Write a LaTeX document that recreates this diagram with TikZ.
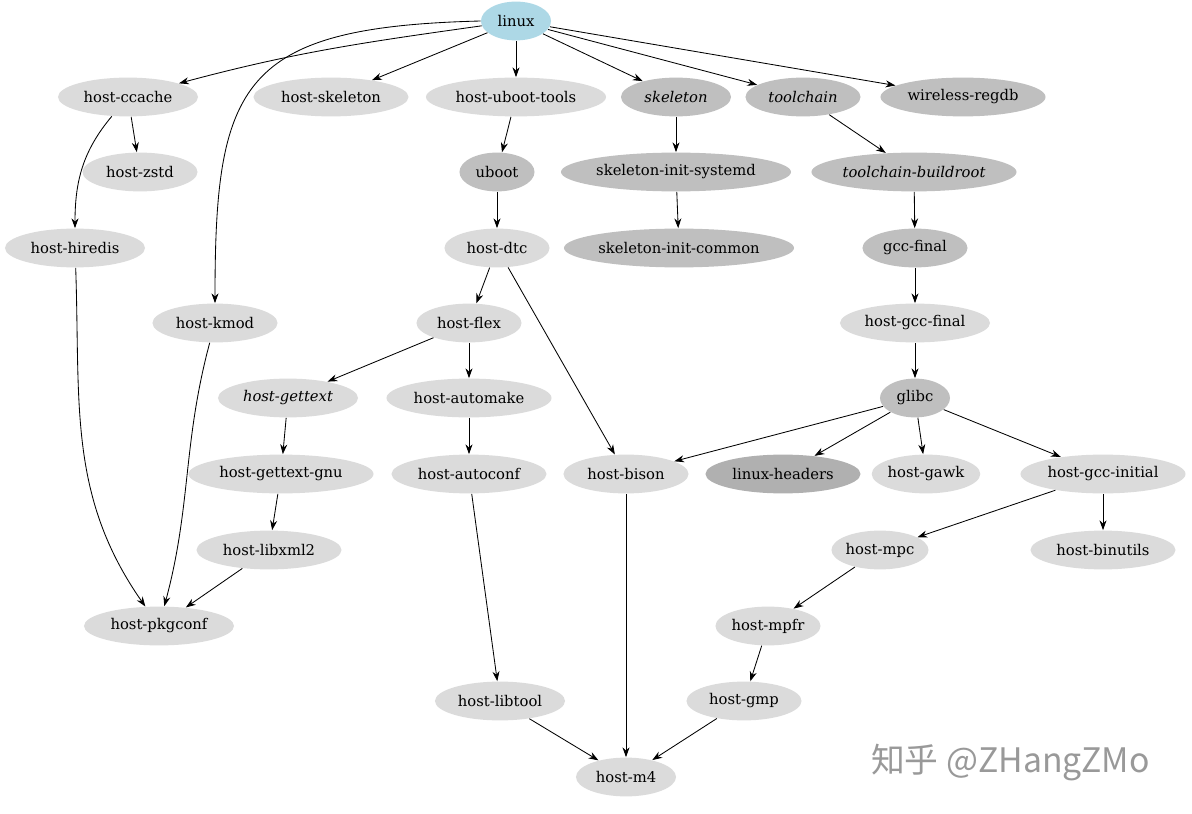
\documentclass[tikz,border=0pt]{standalone}
\usepackage{fontspec}
\setmainfont{DejaVu Serif}
\newfontfamily\cjk{Noto Sans CJK SC}
\usepackage{tikz}
\usetikzlibrary{shapes.geometric, arrows.meta}

\tikzset{
  pkg/.style={ellipse, fill=black!14, inner sep=0pt, minimum height=0.97cm, font=\fontsize{10.5}{12}\selectfont},
  dark/.style={pkg, fill=black!25},
  darker/.style={pkg, fill=black!31},
  virt/.style={font=\fontsize{10.5}{12}\selectfont\itshape},
}

\begin{document}
\begin{tikzpicture}[x=0.025cm,y=-0.025cm,>={Stealth[length=7pt,width=5pt]},semithick]
      \useasboundingbox (0,0) rectangle (1192,814);
      % row 0 and 1
      \node[pkg, fill={rgb,255:red,173;green,216;blue,230}, minimum width=1.75cm] (linux) at (516,21) {linux};
      \node[pkg, minimum width=3.5cm] (ccache) at (128,97) {host-ccache};
      \node[pkg, minimum width=3.875cm] (hskel) at (331,97) {host-skeleton};
      \node[pkg, minimum width=4.5cm] (ubtools) at (516,97) {host-uboot-tools};
      \node[dark, virt, minimum width=2.75cm] (skel) at (676,97) {skeleton};
      \node[dark, virt, minimum width=2.875cm] (tc) at (803,97) {toolchain};
      \node[dark, minimum width=4.125cm] (wreg) at (963,97) {wireless-regdb};
      % row 2 and 3
      \node[pkg, minimum width=2.875cm] (zstd) at (140,172) {host-zstd};
      \node[dark, minimum width=1.875cm] (uboot) at (497,172) {uboot};
      \node[dark, minimum width=5.75cm] (sksys) at (676,172) {skeleton-init-systemd};
      \node[dark, virt, minimum width=5.125cm] (tcbr) at (914,172) {toolchain-buildroot};
      \node[pkg, minimum width=3.5cm] (hiredis) at (75,248) {host-hiredis};
      \node[pkg, minimum width=2.625cm] (dtc) at (497,248) {host-dtc};
      \node[dark, minimum width=5.75cm] (skcom) at (679,248) {skeleton-init-common};
      \node[dark, minimum width=2.625cm] (gccf) at (915,248) {gcc-final};
      % row 4 and 5
      \node[pkg, minimum width=3.125cm] (kmod) at (215,323) {host-kmod};
      \node[pkg, minimum width=2.625cm] (flex) at (469,323) {host-flex};
      \node[pkg, minimum width=3.75cm] (hgccf) at (915,323) {host-gcc-final};
      \node[pkg, virt, minimum width=3.5cm] (gettext) at (288,398) {host-gettext};
      \node[pkg, minimum width=4.125cm] (automake) at (469,398) {host-automake};
      \node[dark, minimum width=1.75cm] (glibc) at (915,398) {glibc};
      % row 6 and 7
      \node[pkg, minimum width=4.625cm] (gtgnu) at (281,474) {host-gettext-gnu};
      \node[pkg, minimum width=3.875cm] (autoconf) at (469,474) {host-autoconf};
      \node[pkg, minimum width=3.125cm] (bison) at (626,474) {host-bison};
      \node[darker, minimum width=3.875cm] (lhdr) at (783,474) {linux-headers};
      \node[pkg, minimum width=2.375cm] (gawk) at (926,474) {host-gawk};
      \node[pkg, minimum width=4.125cm] (gcci) at (1103,474) {host-gcc-initial};
      \node[pkg, minimum width=3.625cm] (xml) at (269,550) {host-libxml2};
      \node[pkg, minimum width=2.25cm] (mpc) at (880,550) {host-mpc};
      \node[pkg, minimum width=3.625cm] (binu) at (1103,550) {host-binutils};
      % bottom rows
      \node[pkg, minimum width=3.75cm] (pkgconf) at (159,626) {host-pkgconf};
      \node[pkg, minimum width=2.625cm] (mpfr) at (768,626) {host-mpfr};
      \node[pkg, minimum width=3.25cm] (libtool) at (500,701) {host-libtool};
      \node[pkg, minimum width=2.875cm] (gmp) at (744,701) {host-gmp};
      \node[pkg, minimum width=2.5cm] (m4) at (626,777) {host-m4};
      \node[text=black!40, font=\cjk\fontsize{24}{26}\selectfont, anchor=west] (wm) at (866,763) {知乎 @ZHangZMo};

      \draw[->] (linux) to[out=188,in=15] (ccache);
      \draw[->] (linux.west) .. controls +(-240,6) and +(0,-240) .. (kmod);
      \path[->]
      (linux) edge (hskel) edge (ubtools) edge (skel) edge (tc) edge (wreg);
      \draw[->] (ccache) -- (zstd);
      \draw[->] (ccache) to[out=-130,in=90] (hiredis);
      \draw[->] (hiredis) to[out=-88,in=125] (pkgconf);
      \draw[->] (kmod) to[out=-105,in=75] (pkgconf);
      \path[->]
      (ubtools) edge (uboot)
      (uboot) edge (dtc)
      (dtc) edge (flex) edge (bison)
      (skel) edge (sksys)
      (sksys) edge (skcom)
      (tc) edge (tcbr)
      (tcbr) edge (gccf)
      (gccf) edge (hgccf)
      (hgccf) edge (glibc)
      (glibc) edge (bison) edge (lhdr) edge (gawk) edge (gcci)
      (gcci) edge (mpc) edge (binu)
      (mpc) edge (mpfr)
      (mpfr) edge (gmp)
      (gmp) edge (m4)
      (flex) edge (gettext) edge (automake)
      (gettext) edge (gtgnu)
      (gtgnu) edge (xml)
      (xml) edge (pkgconf)
      (automake) edge (autoconf)
      (autoconf) edge (libtool)
      (libtool) edge (m4)
      (bison) edge (m4);
\end{tikzpicture}
\end{document}
